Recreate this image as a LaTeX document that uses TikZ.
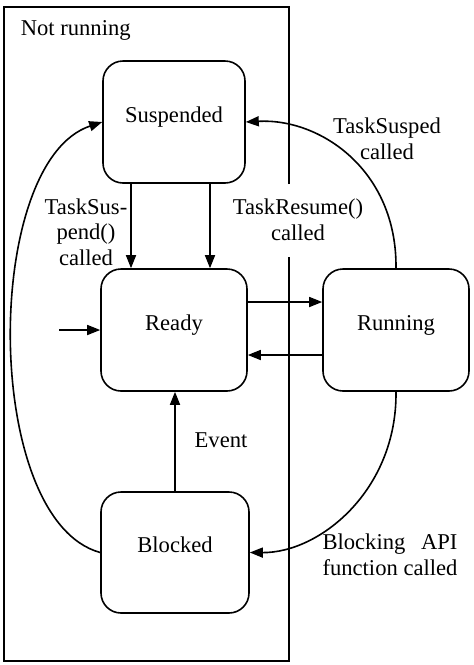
\documentclass[tikz,border=0pt]{standalone}
\usepackage{fontspec}
\usepackage{calc}
\setmainfont{Liberation Serif}
\usetikzlibrary{arrows.meta}
\begin{document}
\begin{tikzpicture}[x=1pt,y=-1pt,
  every node/.style={font=\fontsize{22.6}{25.5}\selectfont},
  state/.style={draw,line width=1.6pt,rounded corners=20pt,inner sep=0pt,
    text height=12pt,text depth=12pt},
  lbl/.style={align=center,inner sep=0pt},
  arr/.style={line width=1.6pt,-{Triangle[length=13pt,width=10pt]}},
  line width=1.6pt]
\useasboundingbox (0,0) rectangle (474,665);
% Not running frame
\draw (289,184) -- (289,7) -- (4,7) -- (4,661) -- (289,661) -- (289,257);
\node[lbl,anchor=west] (nr) at (20,30) {Not running};
% states
\node[state,minimum width=142pt,minimum height=122pt] (susp) at (174,122) {Suspended};
\node[state,minimum width=146pt,minimum height=122pt] (ready) at (174,330) {Ready};
\node[state,minimum width=146pt,minimum height=122pt] (run) at (396,330) {Running};
\node[state,minimum width=148pt,minimum height=121pt] (blk) at (175,552.5) {Blocked};
% vertical arrows
\draw[arr] ([xshift=-43pt]susp.south) -- ([xshift=-43pt]ready.north);
\draw[arr] ([xshift=36pt]susp.south) -- ([xshift=36pt]ready.north);
\node[lbl] (l1) at (86,232) {TaskSus-\\pend()\\called};
\node[lbl] (l2) at (298,220) {TaskResume()\\called};
% ready <-> running
\draw[arr] ([yshift=28pt]ready.east) -- ([yshift=28pt]run.west);
\draw[arr] ([yshift=-25pt]run.west) -- ([yshift=-25pt]ready.east);
% initial
\coordinate (init) at (59,330);
\draw[arr] (init) -- (ready.west);
% blocked -> ready
\draw[arr] (blk.north) -- (blk.north |- ready.south);
\node[lbl] (ev) at (221,440) {Event};
% curves
\draw[arr] (blk.west) .. controls (-18,520) and (-18,162) .. (susp.west);
\draw[arr] (run.north) .. controls (397,170) and (320,118) .. (susp.east);
\node[lbl] (l3) at (387,139) {TaskSusped\\called};
\draw[arr] (run.south) .. controls (397,490) and (320,553) .. (blk.east);
\node[lbl] (l4) at (390,555) {\makebox[\widthof{function called}][s]{Blocking\hfill API}\\function called};
\end{tikzpicture}
\end{document}
